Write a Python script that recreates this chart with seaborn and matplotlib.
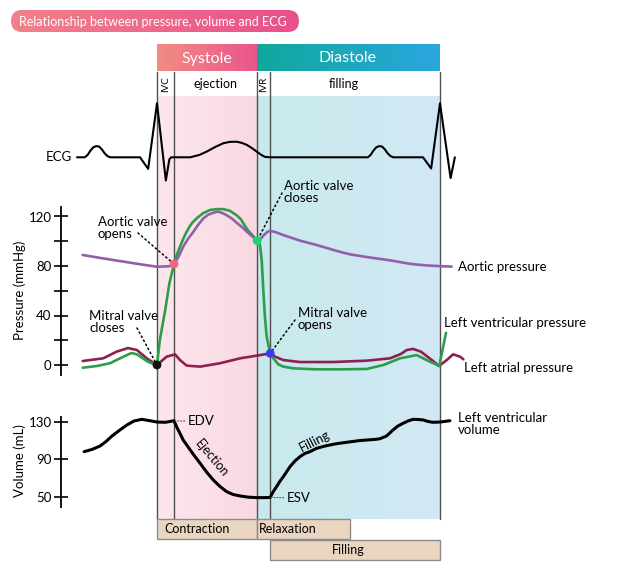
import numpy as np
import matplotlib
matplotlib.use("Agg")
import matplotlib.pyplot as plt
from matplotlib.patches import Rectangle, FancyBboxPatch
from matplotlib.colors import LinearSegmentedColormap
import seaborn as sns

sns.set_theme(style="white", rc={"text.color": "black", "ytick.color": "black"})
plt.rcParams["font.family"] = ["Lato", "DejaVu Sans"]

# ---- data (time in ms, t=0 = mitral valve closes) ----
phase_edges = [0, 48, 283, 320, 800]
phase_names = ["IVC", "ejection", "IVR", "filling"]

ecg_t = [-226, -204, -196, -188, -180, -172, -164, -156, -148, -140, -132, -48, -25, 0, 25, 35, 40, 60,
         94, 120, 140, 165, 187, 205, 225, 240, 254, 270, 282, 295, 305, 320,
         570, 596, 604, 612, 620, 628, 636, 644, 652, 660, 668, 752, 775, 800, 830, 842]
ecg_mv = [0, 0, 0.06, 0.17, 0.25, 0.28, 0.27, 0.2, 0.1, 0.03, 0, 0, -0.29, 1.35, -0.58, -0.05, 0, 0,
          0, 0.06, 0.14, 0.26, 0.35, 0.385, 0.39, 0.36, 0.31, 0.22, 0.14, 0.06, 0.01, 0,
          0, 0, 0.06, 0.17, 0.25, 0.28, 0.27, 0.2, 0.1, 0.03, 0, 0, -0.28, 1.35, -0.52, 0.0]

ao_t = [-210, -160, -105, -50, 0, 35, 48, 60, 74, 88, 103, 117, 131, 145, 159, 172, 185, 197, 211, 225,
        240, 254, 268, 283, 290, 296, 305, 312, 320, 337, 357, 380, 404, 428, 451, 475, 498, 522, 546,
        570, 592, 616, 639, 660, 677, 700, 715, 740, 772, 800, 833]
ao_p = [88.9, 86.5, 84, 81.5, 79.4, 79.8, 81.6, 87, 95.6, 102, 107.7, 113.5, 118.5, 121.5, 123, 124,
        122.8, 121, 118.5, 115, 111.5, 107.7, 104.2, 100.5, 100.8, 103, 105.8, 107.5, 108.5, 107.2,
        105, 102.8, 100.5, 98.7, 97, 95, 93, 91.1, 89.4, 88.3, 87.3, 86.3, 85.4, 84.5, 83.7, 82.5,
        81.8, 81, 80.3, 79.9, 79.5]

lv_t = [-210, -170, -133, -95, -72, -57, -43, -29, -14, 0, 8, 16, 23, 35, 48, 56, 65, 75, 84, 93, 100,
        112, 130, 150, 167, 187, 206, 225, 237, 248, 258, 269, 283, 288, 291, 296, 300, 305, 310, 318,
        320, 329, 343, 357, 385, 450, 520, 593, 640, 687, 734, 762, 798, 817]
lv_p = [-2.2, -0.8, 1.4, 6.7, 9.7, 8.6, 6.0, 3.2, 1.2, 0, 20, 33, 44, 66, 81.6, 89, 95.6, 102.5, 107.7,
        112.3, 115, 118.5, 122.6, 125.3, 125.9, 126, 124.6, 121, 117.8, 112.6, 108.5, 105.2, 100.5,
        99, 97, 84.8, 63, 39, 23, 12, 9.4, 5.4, 0.5, -1.3, -2.7, -3.5, -3.5, -3.2, 0, 5.4, 8, 4,
        -0.8, 26]

la_t = [-210, -152, -114, -82, -57, -29, 0, 27, 51, 65, 84, 122, 178, 235, 291, 320, 334, 357, 404,
        498, 593, 659, 690, 706, 724, 746, 777, 797, 819, 837, 857, 866]
la_p = [3.2, 5.4, 10.8, 13.7, 12.1, 5.4, 0, 6.7, 8.6, 4, -0.5, -1.3, 1.4, 5.4, 8, 9.4, 6.7, 4, 2.4,
        2.4, 3.5, 5.4, 9, 12.1, 13, 10.8, 4, -0.8, 4, 8.6, 6.7, 4.6]

vol_t = [-206, -184, -161, -144, -127, -105, -85, -65, -43, -23, 0, 23, 37, 48, 57, 65, 74, 84, 102,
         122, 140, 159, 178, 197, 215, 235, 258, 282, 305, 320, 328, 338, 348, 357, 376, 390, 404,
         418, 432, 451, 475, 503, 526, 574, 616, 630, 649, 667, 681, 696, 710, 724, 738, 753, 766,
         780, 800, 828]
vol_ml = [98.4, 100.8, 104.5, 109.4, 115.3, 121.7, 127.1, 131.4, 133.2, 131.9, 130.3, 130, 130.9,
          131.7, 123.9, 118, 111, 105.6, 95.9, 85.9, 76.6, 68, 61, 55.4, 52.4, 50.8, 49.5, 49, 49,
          49.2, 55.1, 60.8, 66.9, 71.5, 82.3, 88.4, 93, 96.5, 98.4, 102, 104.5, 106.7, 108, 110.4,
          111.6, 112.3, 115.3, 121.7, 126, 129, 131.5, 133.2, 133, 132.5, 130.9, 130, 130.3, 131.7]

valve_names = ["Mitral valve\ncloses", "Aortic valve\nopens", "Aortic valve\ncloses", "Mitral valve\nopens"]
valve_t = [0, 48, 283, 320]
valve_p = [0, 81.6, 100.5, 9.4]
valve_colors = ["#111111", "#f0647c", "#20d26a", "#3b3bf2"]

edv = (48, 131.4)
esv = (320, 49.2)

# ---- layout ----
W, H = 624, 577
X0 = 157            # pixel column of t = 0
PX_MS = 283 / 800   # pixels per ms
XLIM = ((0 - X0) / PX_MS, (W - X0) / PX_MS)


def t2x(t):
    return X0 + t * PX_MS


def grad(ax, x0, x1, y0, y1, c0, c1):
    cmap = LinearSegmentedColormap.from_list("g", [c0, c1])
    return ax.imshow(np.linspace(0, 1, 256)[None, :], cmap=cmap, extent=(x0, x1, y1, y0),
                     aspect="auto", interpolation="bilinear", zorder=0)


fig = plt.figure(figsize=(W / 100, H / 100), dpi=100)
lay = fig.add_axes([0, 0, 1, 1])

# title pill
pill = FancyBboxPatch((11, 10), 288, 22, boxstyle="round,pad=0,rounding_size=11",
                      facecolor="none", edgecolor="none")
lay.add_patch(pill)
grad(lay, 11, 299, 10, 32, "#f2818a", "#e8508c").set_clip_path(pill)
lay.text(153, 21.5, "Relationship between pressure, volume and ECG", color="white",
         ha="center", va="center", fontsize=9)

sx0, sx1 = t2x(phase_edges[0]), t2x(phase_edges[2])
dx0, dx1 = t2x(phase_edges[2]), t2x(phase_edges[4])
grad(lay, sx0, sx1, 45, 71.5, "#f28d82", "#e9558c")
grad(lay, dx0, dx1, 45, 71.5, "#10a89b", "#2aa6df")
lay.text((sx0 + sx1) / 2, 58.5, "Systole", color="white", ha="center", va="center", fontsize=11.5)
lay.text(348, 58.5, "Diastole", color="white", ha="center", va="center", fontsize=11.5)

grad(lay, sx0, sx1, 96, 519, "#fce7ed", "#f9d8e2")
grad(lay, dx0, dx1, 96, 519, "#c8eaec", "#d2e8f5")

for t in phase_edges:
    lay.plot([t2x(t)] * 2, [71.5, 519], color="#505050", lw=1, zorder=1)

row_x = [165.5, 215.5, 263.6, 344]
for name, x in zip(phase_names, row_x):
    if name.isupper():
        lay.text(x, 84, name, rotation=90, ha="center", va="center", fontsize=7)
    else:
        lay.text(x, 84, name, ha="center", va="center", fontsize=9)

boxes = [("Contraction", 0, 283, 519, 197.5), ("Relaxation", 283, 546, 519, 287.5),
         ("Filling", 320, 800, 539.5, 348)]
for label, a, b, y0, tx in boxes:
    lay.add_patch(Rectangle((t2x(a), y0), t2x(b) - t2x(a), 20, facecolor="#ead6c0",
                            edgecolor="#8c8c8c", lw=1, zorder=1))
    lay.text(tx, y0 + 10, label, ha="center", va="center", fontsize=9)

lay.set_xlim(0, W)
lay.set_ylim(H, 0)
lay.axis("off")


def data_axes(zero_px, px_per_unit, zero_val=0):
    ax = fig.add_axes([0, 0, 1, 1], facecolor="none")
    ax.set_xlim(XLIM)
    ax.set_ylim(zero_val - (H - zero_px) / px_per_unit, zero_val + zero_px / px_per_unit)
    for s in ax.spines.values():
        s.set_visible(False)
    ax.set_xticks([])
    ax.set_yticks([])
    ax.grid(False)
    return ax


eax = data_axes(157.3, 40)
pax = data_axes(365, 1.2375)
vax = data_axes(496.7, 0.93, 50)

kw = dict(sort=False, estimator=None, solid_joinstyle="round", solid_capstyle="round")
sns.lineplot(x=ecg_t, y=ecg_mv, ax=eax, color="black", lw=1.5, **kw)
sns.lineplot(x=la_t, y=la_p, ax=pax, color="#8e1f52", lw=1.9, **kw)
sns.lineplot(x=lv_t, y=lv_p, ax=pax, color="#2c9e4b", lw=1.9, **kw)
sns.lineplot(x=ao_t, y=ao_p, ax=pax, color="#9160a9", lw=1.9, **kw)
sns.lineplot(x=vol_t, y=vol_ml, ax=vax, color="black", lw=2.2, **kw)
sns.scatterplot(x=valve_t, y=valve_p, hue=valve_names, palette=dict(zip(valve_names, valve_colors)),
                s=40, linewidth=0, legend=False, ax=pax, zorder=5)

# axes (spine with crossing ticks)
for ax, lo, hi, major, minor in [(pax, -8, 127.5, [0, 40, 80, 120], [20, 60, 100]),
                                 (vax, 39, 136, [50, 90, 130], [])]:
    sp = ax.spines["left"]
    sp.set_visible(True)
    sp.set_position(("axes", 61 / W))
    sp.set_bounds(lo, hi)
    sp.set_color("black")
    sp.set_linewidth(1.3)
    ax.set_yticks(major)
    ax.set_yticks(minor, minor=True)
    ax.tick_params(axis="y", which="both", left=True, direction="inout", length=9.4, width=1.2,
                   color="black", labelsize=9.5, pad=2)
    ax.set_xlabel("")
    ax.set_ylabel("")

lay.text(20, 290, "Pressure (mmHg)", rotation=90, ha="center", va="center", fontsize=9.5)
lay.text(20, 461, "Volume (mL)", rotation=90, ha="center", va="center", fontsize=9.5)
lay.text(72, 157, "ECG", ha="right", va="center", fontsize=9.5)

# valve annotations
label_pos = [(89, 322), (98, 228), (284, 191.5), (298, 319)]
line_from = [(137, 328), (138, 233), (282, 193), (295, 320)]
for name, t, p, (lx, ly), (fx, fy) in zip(valve_names, valve_t, valve_p, label_pos, line_from):
    lay.text(lx, ly, name, ha="left", va="center", fontsize=9.5, linespacing=1.0)
    pax.annotate("", xy=(t, p), xytext=(fx, fy), textcoords=lay.transData,
                 arrowprops=dict(arrowstyle="-", linestyle=(0, (1, 2)), lw=1.1, color="black",
                                 shrinkA=0, shrinkB=3))

lay.text(458, 267, "Aortic pressure", va="center", fontsize=9.5)
lay.text(444, 323, "Left ventricular pressure", va="center", fontsize=9.5)
lay.text(464, 368, "Left atrial pressure", va="center", fontsize=9.5)
lay.text(458, 424, "Left ventricular\nvolume", va="center", fontsize=9.5, linespacing=1.0)

vax.annotate("EDV", xy=edv, xytext=(188, 421), textcoords=lay.transData, ha="left", va="center",
             fontsize=9.5, arrowprops=dict(arrowstyle="-", linestyle=":", lw=0.8, color="#555555",
                                           shrinkA=0, shrinkB=0))
vax.annotate("ESV", xy=esv, xytext=(287, 498), textcoords=lay.transData, ha="left", va="center",
             fontsize=9.5, arrowprops=dict(arrowstyle="-", linestyle=":", lw=0.8, color="#555555",
                                           shrinkA=0, shrinkB=0))
lay.text(212, 458, "Ejection", rotation=-50, ha="center", va="center", fontsize=9,
         rotation_mode="anchor")
lay.text(315, 441, "Filling", rotation=27, ha="center", va="center", fontsize=9,
         rotation_mode="anchor")

fig.savefig("out.png", dpi=100)
